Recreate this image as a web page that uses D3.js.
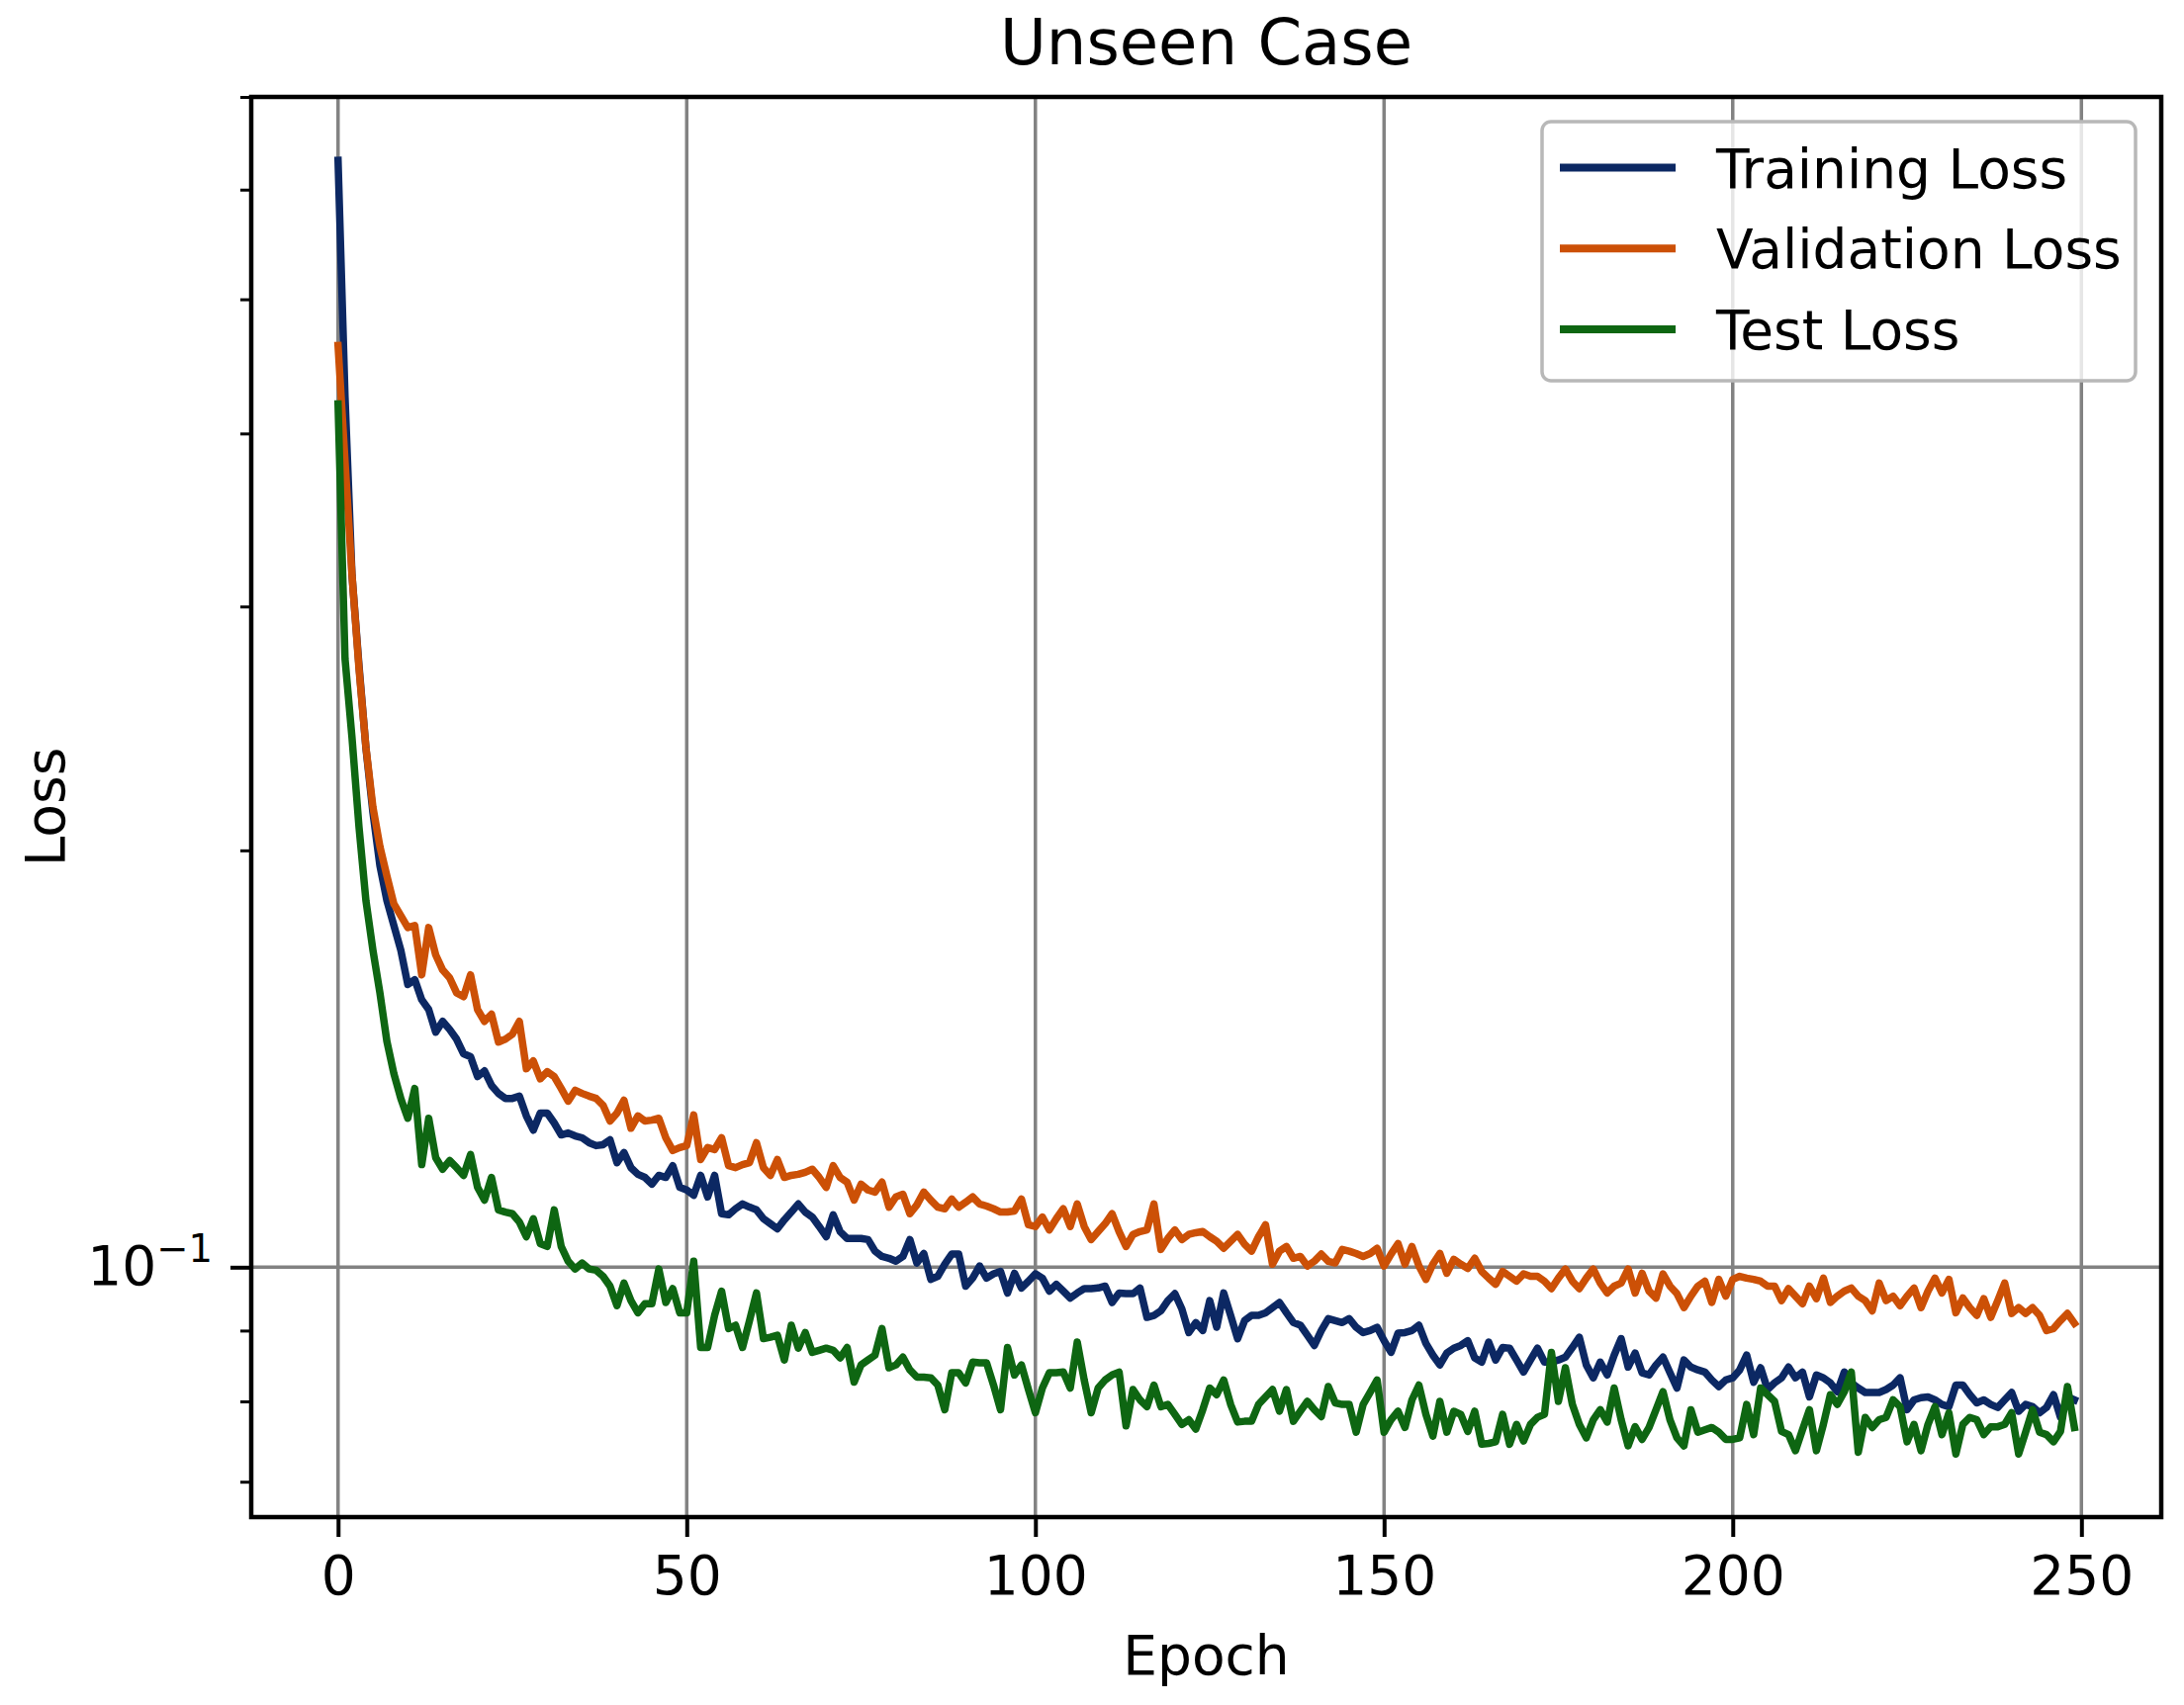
<!DOCTYPE html>
<html>
<head>
<meta charset="utf-8">
<script src="https://cdn.jsdelivr.net/npm/d3@7"></script>
<style>
  html, body { margin: 0; padding: 0; background: #ffffff; }
  svg { display: block; font-family: "DejaVu Sans", sans-serif; }
</style>
</head>
<body>
<div id="chart"></div>
<script>
// Unseen Case: loss curves per epoch (log y axis)

const TRAIN_LOSS = [
  0.630, 0.425, 0.316, 0.272, 0.237, 0.213, 0.195, 0.184, 0.1765, 0.1694,
  0.1600, 0.1613, 0.1560, 0.1535, 0.1478, 0.1505, 0.1485, 0.1461, 0.1426, 0.1419,
  0.1373, 0.1386, 0.1353, 0.1335, 0.1324, 0.1324, 0.1329, 0.1286, 0.1256, 0.1292,
  0.1292, 0.1271, 0.1246, 0.1250, 0.1244, 0.1240, 0.1230, 0.1224, 0.1226, 0.1236,
  0.1190, 0.1210, 0.1180, 0.1167, 0.1161, 0.1148, 0.1165, 0.1161, 0.1184, 0.1142,
  0.1137, 0.1127, 0.1165, 0.1124, 0.1165, 0.1093, 0.1091, 0.1102, 0.1111, 0.1105,
  0.1100, 0.1084, 0.1075, 0.1066, 0.1082, 0.1096, 0.1111, 0.1096, 0.1087, 0.1070,
  0.1052, 0.1091, 0.1061, 0.1049, 0.1049, 0.1049, 0.1047, 0.1027, 0.1018, 0.1015,
  0.1010, 0.1018, 0.1047, 0.1007, 0.1023, 0.0980, 0.0985, 0.1005, 0.1022, 0.1022,
  0.0969, 0.0982, 0.1002, 0.0982, 0.0989, 0.0993, 0.0958, 0.0990, 0.0966, 0.0977,
  0.0989, 0.0982, 0.0961, 0.0972, 0.0961, 0.0950, 0.0958, 0.0965, 0.0965, 0.0966,
  0.0969, 0.0943, 0.0958, 0.0957, 0.0957, 0.0966, 0.0920, 0.0923, 0.0930, 0.0946,
  0.0957, 0.0933, 0.0897, 0.0912, 0.0900, 0.0946, 0.0905, 0.0958, 0.0923, 0.0888,
  0.0915, 0.0923, 0.0923, 0.0927, 0.0935, 0.0943, 0.0927, 0.0912, 0.0908, 0.0893,
  0.0878, 0.0900, 0.0918, 0.0915, 0.0912, 0.0918, 0.0905, 0.0897, 0.0900, 0.0905,
  0.0885, 0.0868, 0.0896, 0.0897, 0.0900, 0.0908, 0.0881, 0.0864, 0.0850, 0.0867,
  0.0874, 0.0878, 0.0885, 0.0860, 0.0854, 0.0883, 0.0857, 0.0875, 0.0874, 0.0857,
  0.0840, 0.0857, 0.0874, 0.0854, 0.0854, 0.0857, 0.0861, 0.0875, 0.0890, 0.0850,
  0.0832, 0.0854, 0.0836, 0.0864, 0.0888, 0.0847, 0.0867, 0.0839, 0.0836, 0.0850,
  0.0861, 0.0839, 0.0818, 0.0857, 0.0847, 0.0843, 0.0840, 0.0829, 0.0820, 0.0829,
  0.0832, 0.0843, 0.0864, 0.0826, 0.0846, 0.0816, 0.0825, 0.0832, 0.0847, 0.0832,
  0.0840, 0.0806, 0.0836, 0.0832, 0.0825, 0.0813, 0.0840, 0.0825, 0.0818, 0.0812,
  0.0812, 0.0812, 0.0816, 0.0822, 0.0832, 0.0789, 0.0802, 0.0805, 0.0806, 0.0802,
  0.0796, 0.0793, 0.0822, 0.0822, 0.0809, 0.0798, 0.0802, 0.0796, 0.0792, 0.0802,
  0.0812, 0.0787, 0.0796, 0.0793, 0.0785, 0.0792, 0.0809, 0.0779, 0.0806, 0.0802
];

const VAL_LOSS = [
  0.4630, 0.3819, 0.3162, 0.2706, 0.2373, 0.2149, 0.2013, 0.1917, 0.1830, 0.1794,
  0.1759, 0.1765, 0.1626, 0.1759, 0.1681, 0.1639, 0.1618, 0.1578, 0.1568, 0.1626,
  0.1535, 0.1505, 0.1523, 0.1454, 0.1461, 0.1473, 0.1505, 0.1391, 0.1409, 0.1368,
  0.1384, 0.1373, 0.1346, 0.1318, 0.1342, 0.1335, 0.1329, 0.1324, 0.1309, 0.1275,
  0.1292, 0.1320, 0.1260, 0.1286, 0.1275, 0.1277, 0.1281, 0.1240, 0.1214, 0.1220,
  0.1224, 0.1288, 0.1196, 0.1220, 0.1216, 0.1240, 0.1184, 0.1180, 0.1186, 0.1190,
  0.1230, 0.1180, 0.1165, 0.1196, 0.1161, 0.1165, 0.1167, 0.1171, 0.1177, 0.1161,
  0.1142, 0.1184, 0.1161, 0.1152, 0.1118, 0.1148, 0.1137, 0.1133, 0.1152, 0.1105,
  0.1124, 0.1129, 0.1093, 0.1109, 0.1133, 0.1118, 0.1105, 0.1102, 0.1120, 0.1105,
  0.1114, 0.1124, 0.1111, 0.1107, 0.1102, 0.1096, 0.1096, 0.1098, 0.1120, 0.1073,
  0.1070, 0.1087, 0.1064, 0.1084, 0.1102, 0.1070, 0.1111, 0.1070, 0.1047, 0.1061,
  0.1075, 0.1093, 0.1061, 0.1035, 0.1056, 0.1061, 0.1064, 0.1111, 0.1030, 0.1049,
  0.1064, 0.1047, 0.1056, 0.1059, 0.1061, 0.1052, 0.1044, 0.1032, 0.1044, 0.1056,
  0.1039, 0.1027, 0.1052, 0.1073, 0.1005, 0.1027, 0.1035, 0.1015, 0.1018, 0.1002,
  0.1010, 0.1022, 0.1010, 0.1007, 0.1030, 0.1027, 0.1023, 0.1018, 0.1023, 0.1032,
  0.1002, 0.1022, 0.1040, 0.1005, 0.1035, 0.1002, 0.0980, 0.1005, 0.1023, 0.0990,
  0.1013, 0.1005, 0.0998, 0.1015, 0.0993, 0.0982, 0.0972, 0.0993, 0.0985, 0.0977,
  0.0989, 0.0985, 0.0985, 0.0977, 0.0965, 0.0982, 0.0997, 0.0977, 0.0965, 0.0982,
  0.0997, 0.0974, 0.0958, 0.0969, 0.0974, 0.0997, 0.0958, 0.0990, 0.0961, 0.0950,
  0.0989, 0.0969, 0.0957, 0.0935, 0.0953, 0.0969, 0.0977, 0.0943, 0.0980, 0.0953,
  0.0980, 0.0985, 0.0982, 0.0980, 0.0977, 0.0969, 0.0969, 0.0946, 0.0965, 0.0953,
  0.0941, 0.0969, 0.0949, 0.0982, 0.0943, 0.0953, 0.0961, 0.0966, 0.0953, 0.0946,
  0.0930, 0.0974, 0.0946, 0.0953, 0.0938, 0.0953, 0.0966, 0.0935, 0.0961, 0.0982,
  0.0958, 0.0980, 0.0927, 0.0950, 0.0935, 0.0923, 0.0949, 0.0920, 0.0946, 0.0974,
  0.0926, 0.0935, 0.0926, 0.0935, 0.0923, 0.0900, 0.0903, 0.0915, 0.0926, 0.0911
];

const TEST_LOSS = [
  0.4201, 0.2750, 0.2412, 0.2080, 0.1839, 0.1694, 0.1578, 0.1456, 0.1380, 0.1324,
  0.1281, 0.1346, 0.1186, 0.1281, 0.1200, 0.1177, 0.1194, 0.1180, 0.1165, 0.1206,
  0.1142, 0.1118, 0.1161, 0.1100, 0.1096, 0.1093, 0.1078, 0.1052, 0.1084, 0.1040,
  0.1035, 0.1100, 0.1035, 0.1010, 0.0997, 0.1007, 0.0997, 0.0995, 0.0985, 0.0969,
  0.0938, 0.0974, 0.0946, 0.0927, 0.0941, 0.0941, 0.0997, 0.0943, 0.0965, 0.0927,
  0.0927, 0.1010, 0.0875, 0.0875, 0.0923, 0.0961, 0.0903, 0.0908, 0.0875, 0.0915,
  0.0958, 0.0888, 0.0890, 0.0893, 0.0857, 0.0908, 0.0874, 0.0897, 0.0868, 0.0871,
  0.0874, 0.0871, 0.0860, 0.0875, 0.0826, 0.0850, 0.0857, 0.0864, 0.0903, 0.0846,
  0.0850, 0.0861, 0.0843, 0.0833, 0.0833, 0.0832, 0.0822, 0.0789, 0.0839, 0.0839,
  0.0825, 0.0854, 0.0853, 0.0853, 0.0822, 0.0789, 0.0875, 0.0836, 0.0850, 0.0816,
  0.0785, 0.0818, 0.0839, 0.0839, 0.0840, 0.0818, 0.0883, 0.0829, 0.0785, 0.0818,
  0.0829, 0.0836, 0.0840, 0.0768, 0.0816, 0.0802, 0.0793, 0.0822, 0.0793, 0.0796,
  0.0783, 0.0770, 0.0776, 0.0764, 0.0789, 0.0818, 0.0809, 0.0829, 0.0796, 0.0773,
  0.0774, 0.0774, 0.0796, 0.0806, 0.0816, 0.0787, 0.0816, 0.0774, 0.0787, 0.0800,
  0.0789, 0.0780, 0.0820, 0.0798, 0.0796, 0.0796, 0.0760, 0.0796, 0.0812, 0.0829,
  0.0760, 0.0776, 0.0787, 0.0766, 0.0802, 0.0822, 0.0783, 0.0755, 0.0800, 0.0760,
  0.0787, 0.0783, 0.0761, 0.0787, 0.0745, 0.0746, 0.0748, 0.0783, 0.0745, 0.0770,
  0.0749, 0.0770, 0.0779, 0.0783, 0.0868, 0.0800, 0.0846, 0.0796, 0.0770, 0.0753,
  0.0776, 0.0789, 0.0773, 0.0818, 0.0776, 0.0743, 0.0767, 0.0751, 0.0766, 0.0789,
  0.0813, 0.0776, 0.0753, 0.0743, 0.0789, 0.0760, 0.0763, 0.0766, 0.0760, 0.0751,
  0.0751, 0.0753, 0.0796, 0.0757, 0.0818, 0.0809, 0.0800, 0.0761, 0.0757, 0.0737,
  0.0763, 0.0789, 0.0737, 0.0770, 0.0809, 0.0796, 0.0813, 0.0840, 0.0735, 0.0779,
  0.0766, 0.0776, 0.0779, 0.0802, 0.0793, 0.0748, 0.0770, 0.0737, 0.0770, 0.0793,
  0.0757, 0.0785, 0.0733, 0.0770, 0.0779, 0.0776, 0.0757, 0.0767, 0.0767, 0.0770,
  0.0785, 0.0733, 0.0760, 0.0789, 0.0760, 0.0757, 0.0748, 0.0761, 0.0820, 0.0766
];

const X_TICKS = [0, 50, 100, 150, 200, 250];
const Y_MAJOR_TICKS = [0.1];
const Y_MINOR_TICKS = [0.07, 0.08, 0.09, 0.2, 0.3, 0.4, 0.5, 0.6, 0.7];

const SERIES = [
    { name: "Training Loss", values: TRAIN_LOSS, color: "#0c2863" },
    { name: "Validation Loss", values: VAL_LOSS, color: "#cc5006" },
    { name: "Test Loss", values: TEST_LOSS, color: "#0e6612" }
];

function drawLossChart(containerId) {
    const W = 2208, H = 1724;
    const margin = { top: 98, right: 23, bottom: 190, left: 254 };
    const width = W - margin.left - margin.right;
    const height = H - margin.top - margin.bottom;
    const fontSize = 55;

    const svg = d3.select(containerId).append("svg")
        .attr("width", W)
        .attr("height", H);

    svg.append("rect").attr("width", W).attr("height", H).attr("fill", "#ffffff");

    const g = svg.append("g")
        .attr("transform", `translate(${margin.left},${margin.top})`);

    // matplotlib-style 5% margins around epochs 0..249
    const n = TRAIN_LOSS.length;
    const pad = (n - 1) * 0.05;
    const x = d3.scaleLinear()
        .domain([-pad, n - 1 + pad])
        .range([0, width]);

    const y = d3.scaleLog()
        .domain([0.066, 0.7])
        .range([height, 0]);

    // grid
    g.append("g")
        .selectAll("line")
        .data(X_TICKS)
        .enter().append("line")
        .attr("x1", d => x(d)).attr("x2", d => x(d))
        .attr("y1", 0).attr("y2", height)
        .attr("stroke", "#828282")
        .attr("stroke-width", 3.5);

    g.append("g")
        .selectAll("line")
        .data(Y_MAJOR_TICKS)
        .enter().append("line")
        .attr("x1", 0).attr("x2", width)
        .attr("y1", d => y(d)).attr("y2", d => y(d))
        .attr("stroke", "#828282")
        .attr("stroke-width", 3.5);

    // lines
    const line = d3.line()
        .x((d, i) => x(i))
        .y(d => y(d));

    SERIES.forEach(s => {
        g.append("path")
            .datum(s.values)
            .attr("fill", "none")
            .attr("stroke", s.color)
            .attr("stroke-width", 7.5)
            .attr("stroke-linejoin", "round")
            .attr("stroke-linecap", "square")
            .attr("d", line);
    });

    // axes
    const xAxis = g.append("g")
        .attr("transform", `translate(0,${height})`)
        .call(d3.axisBottom(x).tickValues(X_TICKS).tickSize(20).tickPadding(19));

    const yMinor = g.append("g")
        .call(d3.axisLeft(y).tickValues(Y_MINOR_TICKS).tickSize(11).tickFormat(""));

    const yMajor = g.append("g")
        .call(d3.axisLeft(y).tickValues(Y_MAJOR_TICKS).tickSize(21).tickPadding(18));

    [xAxis, yMinor, yMajor].forEach(a => {
        a.select(".domain").remove();
        a.selectAll("text")
            .attr("fill", "#000")
            .style("font-size", fontSize + "px")
            .style("font-family", "DejaVu Sans");
    });
    xAxis.selectAll(".tick line").attr("stroke", "#000").attr("stroke-width", 4);
    yMajor.selectAll(".tick line").attr("stroke", "#000").attr("stroke-width", 4);
    yMinor.selectAll(".tick line").attr("stroke", "#000").attr("stroke-width", 3);

    // 10^-1 label
    yMajor.selectAll(".tick text").each(function() {
        const t = d3.select(this);
        t.text(null);
        t.append("tspan").text("10");
        t.append("tspan")
            .attr("dy", "-0.62em")
            .style("font-size", "0.7em")
            .text("\u22121");
    });

    // frame
    g.append("rect")
        .attr("width", width)
        .attr("height", height)
        .attr("fill", "none")
        .attr("stroke", "#000")
        .attr("stroke-width", 4.5);

    // legend
    const lg = svg.append("g").attr("transform", "translate(1559,123)");
    lg.append("rect")
        .attr("width", 600)
        .attr("height", 262)
        .attr("rx", 9)
        .attr("fill", "#ffffff")
        .attr("fill-opacity", 0.8)
        .attr("stroke", "#b8b8b8")
        .attr("stroke-width", 3.5);

    SERIES.forEach((s, i) => {
        const ly = 46.5 + i * 81.7;
        lg.append("line")
            .attr("x1", 18).attr("x2", 135)
            .attr("y1", ly).attr("y2", ly)
            .attr("stroke", s.color)
            .attr("stroke-width", 8);
        lg.append("text")
            .attr("x", 176)
            .attr("y", ly + 20)
            .style("font-size", fontSize + "px")
            .attr("fill", "#000")
            .text(s.name);
    });

    // titles
    svg.append("text")
        .attr("x", margin.left + width / 2)
        .attr("y", 65)
        .attr("text-anchor", "middle")
        .style("font-size", "64px")
        .text("Unseen Case");

    svg.append("text")
        .attr("x", margin.left + width / 2)
        .attr("y", 1693)
        .attr("text-anchor", "middle")
        .style("font-size", fontSize + "px")
        .text("Epoch");

    svg.append("text")
        .attr("transform", `translate(65,${margin.top + height / 2}) rotate(-90)`)
        .attr("text-anchor", "middle")
        .style("font-size", fontSize + "px")
        .text("Loss");
}

drawLossChart("#chart");
</script>
</body>
</html>
